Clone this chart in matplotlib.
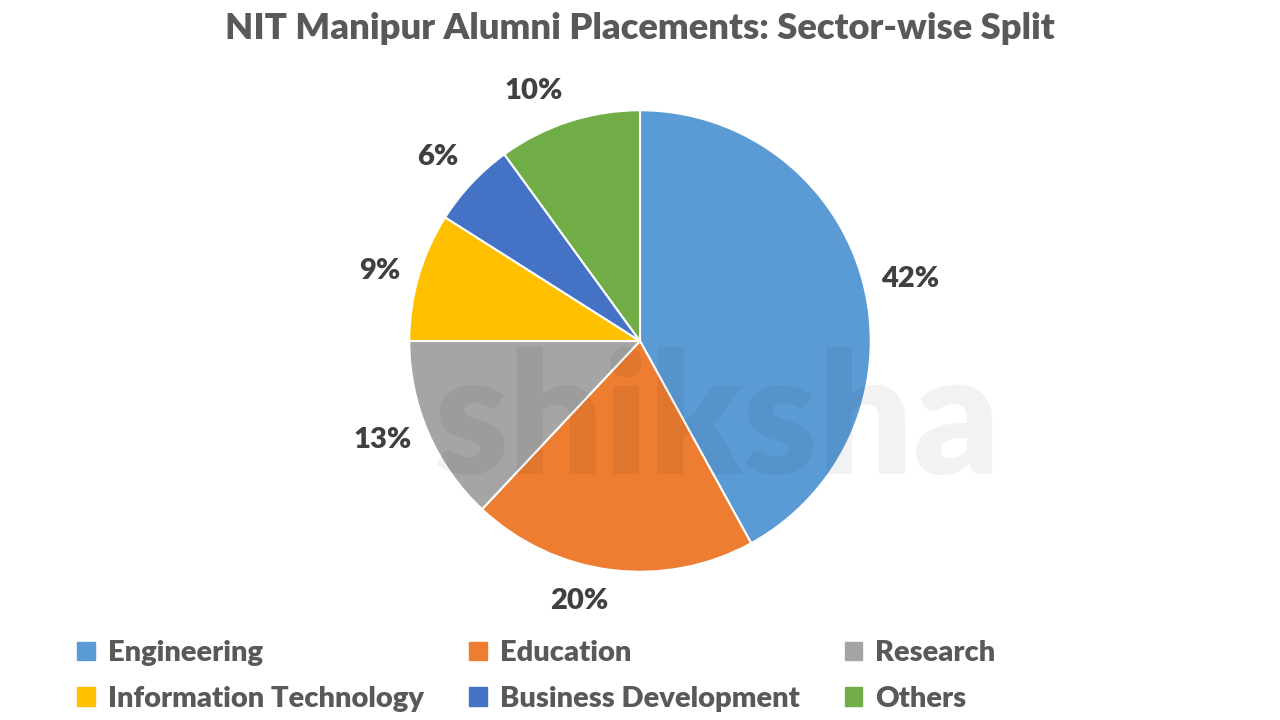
import numpy as np
import matplotlib.pyplot as plt
from matplotlib.patches import Patch

# Sector-wise split of alumni placements (%)
sectors = ["Engineering", "Education", "Research",
           "Information Technology", "Business Development", "Others"]
shares = [42, 20, 13, 9, 6, 10]
colors = ["#5B9BD5", "#ED7D31", "#A5A5A5", "#FFC000", "#4472C4", "#70AD47"]

plt.rcParams["font.family"] = ["Lato", "DejaVu Sans"]
title_color = "#595959"
label_color = "#404040"

fig = plt.figure(figsize=(12.8, 7.2), dpi=100)
fig.patch.set_facecolor("white")

ax = fig.add_axes([340 / 1280, 79 / 720, 600 / 1280, 600 / 720])

wedges, _, autotexts = ax.pie(
    shares, colors=colors, startangle=90, counterclock=False,
    autopct="%d%%", radius=1,
    wedgeprops=dict(edgecolor="white", linewidth=1.5),
)

# "outside end" labels: anchor the text box just beyond the rim
for w, t in zip(wedges, autotexts):
    ang = np.deg2rad((w.theta1 + w.theta2) / 2)
    c, s = np.cos(ang), np.sin(ang)
    t.set_position((1.08 * c, 1.08 * s))
    t.set_ha("left" if c > 0.1 else "right" if c < -0.1 else "center")
    t.set_va("bottom" if s > 0.6 else "top" if s < -0.6 else "center")
    t.set_fontsize(21)
    t.set_fontweight("heavy")
    t.set_color(label_color)

ax.set_xlim(-1.3, 1.3)
ax.set_ylim(-1.3, 1.3)
ax.set_aspect("equal")
ax.axis("off")

# faint watermark laid over the chart
fig.text(0.56, 0.41, "shiksha", fontsize=121, fontweight="heavy",
         color="black", alpha=0.05, ha="center", va="center", zorder=5)

fig.suptitle("NIT Manipur Alumni Placements: Sector-wise Split",
             y=0.983, fontsize=26.2, fontweight="heavy", color=title_color)

# legend filled row by row like the original
order = [0, 3, 1, 4, 2, 5]
handles = [Patch(facecolor=colors[i], edgecolor=colors[i]) for i in order]
labels = [sectors[i] for i in order]
leg = fig.legend(handles, labels, ncol=3, loc="lower left",
                 bbox_to_anchor=(0.04, -0.025), frameon=False,
                 prop=dict(size=21, weight="heavy"),
                 handlelength=0.6, handleheight=0.6, handletextpad=0.45,
                 columnspacing=1.55, labelspacing=0.67)
for t in leg.get_texts():
    t.set_color(title_color)

fig.savefig("out.png", dpi=100)
